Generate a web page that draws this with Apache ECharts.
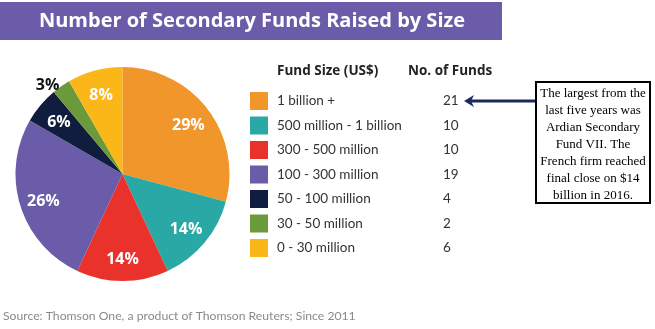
<!DOCTYPE html>
<html>
<head>
<meta charset="utf-8">
<script src="https://cdn.jsdelivr.net/npm/echarts@6/dist/echarts.min.js"></script>
<style>
  html, body { margin: 0; padding: 0; background: #fff; }
  #fund-size { width: 655px; height: 329px; }
</style>
</head>
<body>
<div id="fund-size"></div>
<script>
// fund size buckets and number of funds raised
var sizeNames = ['1 billion +', '500 million - 1 billion', '300 - 500 million', '100 - 300 million',
    '50 - 100 million', '30 - 50 million', '0 - 30 million'];
var fundCounts = [21, 10, 10, 19, 4, 2, 6];
var sliceColors = ['#f0962b', '#2aa8a5', '#e8322b', '#6a5ca9', '#111d3e', '#6b9a3b', '#fbb718'];
var noteLines = ['The largest from the', 'last five years was', 'Ardian Secondary',
    'Fund VII. The', 'French firm reached', 'final close on $14', 'billion in 2016.'];

var total = 0;
for (let i = 0; i < fundCounts.length; i++) total += fundCounts[i];

var pieData = [];
var labelData = [];
for (let i = 0; i < sizeNames.length; i++) {
    pieData.push({ name: sizeNames[i], value: fundCounts[i] });
    let obj = { name: sizeNames[i], value: fundCounts[i] };
    // the thin 30-50m slice gets its label outside
    if (fundCounts[i] / total < 0.04) {
        obj.label = { position: 'outside', color: '#111', distanceToLabelLine: 0 };
        obj.labelLine = { show: false, length: 3, length2: 0 };
    }
    labelData.push(obj);
}

var chart = echarts.init(document.getElementById('fund-size'));
var option = {
    animation: false,
    color: sliceColors,
    legend: {
        data: sizeNames,
        orient: 'vertical',
        left: 245,
        top: 87,
        icon: 'rect',
        itemWidth: 18,
        itemHeight: 18,
        itemGap: 6.5,
        selectedMode: false,
        formatter: function (name) {
            var idx = sizeNames.indexOf(name);
            return '{n|' + name + '}{v|' + fundCounts[idx] + '}';
        },
        textStyle: {
            rich: {
                n: { width: 166, fontSize: 13.5, color: '#333', fontFamily: 'Lato', padding: [0, 0, 0, 4] },
                v: { fontSize: 13.5, color: '#333', fontFamily: 'Lato' }
            }
        }
    },
    series: [
        {
            type: 'pie',
            center: [122.5, 174],
            radius: [0, 107],
            startAngle: 90,
            clockwise: true,
            silent: true,
            label: { show: false },
            labelLine: { show: false },
            data: pieData
        },
        {
            // transparent ring that only carries the percent labels
            type: 'pie',
            center: [122.5, 176],
            radius: [53, 107],
            startAngle: 90,
            clockwise: true,
            silent: true,
            legendHoverLink: false,
            itemStyle: { color: 'rgba(0,0,0,0)' },
            label: {
                show: true,
                position: 'inside',
                color: '#fff',
                fontFamily: 'Open Sans',
                fontWeight: 'bold',
                fontSize: 16,
                formatter: function (p) { return Math.round(p.percent) + '%'; }
            },
            data: labelData
        }
    ],
    graphic: [
        { type: 'rect', shape: { x: 0, y: 2, width: 502, height: 38 }, style: { fill: '#6a5ca9' } },
        {
            type: 'text', x: 252, y: 21,
            style: { text: 'Number of Secondary Funds Raised by Size', fill: '#fff', font: 'bold 20px "Open Sans"',
                textAlign: 'center', textVerticalAlign: 'middle' }
        },
        {
            type: 'text', x: 277, y: 71,
            style: { text: 'Fund Size (US$)', fill: '#222', font: 'bold 13.5px "Open Sans"', textVerticalAlign: 'middle' }
        },
        {
            type: 'text', x: 408, y: 71,
            style: { text: 'No. of Funds', fill: '#222', font: 'bold 13.5px "Open Sans"', textVerticalAlign: 'middle' }
        },
        // arrow pointing at the 1 billion + count
        { type: 'line', shape: { x1: 468, y1: 101, x2: 536, y2: 101 }, style: { stroke: '#1b2a5a', lineWidth: 3 } },
        { type: 'polygon', shape: { points: [[464, 101], [474, 95], [471, 101], [474, 107]] },
            style: { fill: '#1b2a5a' } },
        { type: 'rect', shape: { x: 536, y: 82, width: 114, height: 121 },
            style: { fill: '#fff', stroke: '#000', lineWidth: 2 } },
        {
            type: 'text', x: 593, y: 85,
            style: { text: noteLines.join('\n'), fill: '#000', font: '13px "Liberation Serif"',
                textAlign: 'center', lineHeight: 17 }
        },
        {
            type: 'text', x: 3, y: 316,
            style: { text: 'Source: Thomson One, a product of Thomson Reuters; Since 2011', fill: '#8a8a8a',
                font: '12.2px Lato', textVerticalAlign: 'middle' }
        }
    ]
};
chart.setOption(option);
</script>
</body>
</html>
